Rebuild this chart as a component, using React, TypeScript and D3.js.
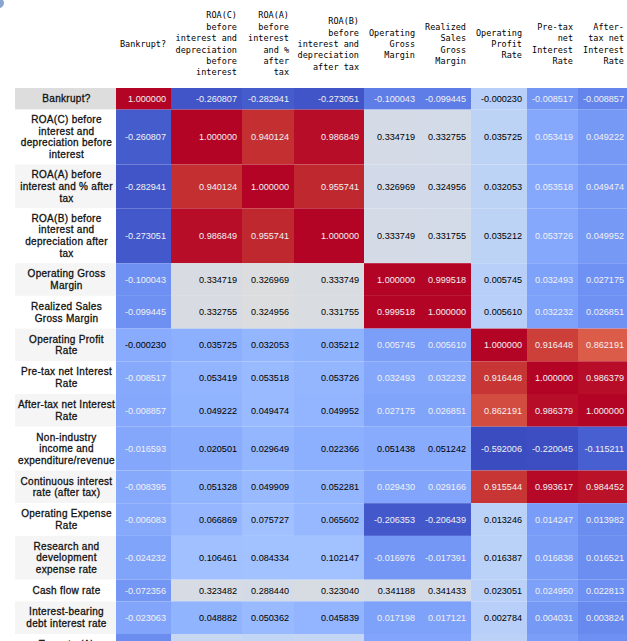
import React, { useEffect, useRef } from "react";
import * as d3 from "d3";

// column headers (wrapped as in the notebook output)
const columnHeaders: string[][] = [
  ["Bankrupt?"],
  ["ROA(C)", "before", "interest and", "depreciation", "before", "interest"],
  ["ROA(A)", "before", "interest", "and %", "after", "tax"],
  ["ROA(B)", "before", "interest and", "depreciation", "after tax"],
  ["Operating", "Gross", "Margin"],
  ["Realized", "Sales", "Gross", "Margin"],
  ["Operating", "Profit", "Rate"],
  ["Pre-tax", "net", "Interest", "Rate"],
  ["After-", "tax net", "Interest", "Rate"],
];

// row index labels
const rowLabels: string[][] = [
  ["Bankrupt?"],
  ["ROA(C) before", "interest and", "depreciation before", "interest"],
  ["ROA(A) before", "interest and % after", "tax"],
  ["ROA(B) before", "interest and", "depreciation after", "tax"],
  ["Operating Gross", "Margin"],
  ["Realized Sales", "Gross Margin"],
  ["Operating Profit", "Rate"],
  ["Pre-tax net Interest", "Rate"],
  ["After-tax net Interest", "Rate"],
  ["Non-industry", "income and", "expenditure/revenue"],
  ["Continuous interest", "rate (after tax)"],
  ["Operating Expense", "Rate"],
  ["Research and", "development", "expense rate"],
  ["Cash flow rate"],
  ["Interest-bearing", "debt interest rate"],
  ["Tax rate (A)"],
];

const corrValues: number[][] = [
  [1.0, -0.260807, -0.282941, -0.273051, -0.100043, -0.099445, -0.00023, -0.008517, -0.008857],
  [-0.260807, 1.0, 0.940124, 0.986849, 0.334719, 0.332755, 0.035725, 0.053419, 0.049222],
  [-0.282941, 0.940124, 1.0, 0.955741, 0.326969, 0.324956, 0.032053, 0.053518, 0.049474],
  [-0.273051, 0.986849, 0.955741, 1.0, 0.333749, 0.331755, 0.035212, 0.053726, 0.049952],
  [-0.100043, 0.334719, 0.326969, 0.333749, 1.0, 0.999518, 0.005745, 0.032493, 0.027175],
  [-0.099445, 0.332755, 0.324956, 0.331755, 0.999518, 1.0, 0.00561, 0.032232, 0.026851],
  [-0.00023, 0.035725, 0.032053, 0.035212, 0.005745, 0.00561, 1.0, 0.916448, 0.862191],
  [-0.008517, 0.053419, 0.053518, 0.053726, 0.032493, 0.032232, 0.916448, 1.0, 0.986379],
  [-0.008857, 0.049222, 0.049474, 0.049952, 0.027175, 0.026851, 0.862191, 0.986379, 1.0],
  [-0.016593, 0.020501, 0.029649, 0.022366, 0.051438, 0.051242, -0.592006, -0.220045, -0.115211],
  [-0.008395, 0.051328, 0.049909, 0.052281, 0.02943, 0.029166, 0.915544, 0.993617, 0.984452],
  [-0.006083, 0.066869, 0.075727, 0.065602, -0.206353, -0.206439, 0.013246, 0.014247, 0.013982],
  [-0.024232, 0.106461, 0.084334, 0.102147, -0.016976, -0.017391, 0.016387, 0.016838, 0.016521],
  [-0.072356, 0.323482, 0.28844, 0.32304, 0.341188, 0.341433, 0.023051, 0.02495, 0.022813],
  [-0.023063, 0.048882, 0.050362, 0.045839, 0.017198, 0.017121, 0.002784, 0.004031, 0.003824],
  [-0.10978, 0.258791, 0.206687, 0.237044, 0.027979, 0.027709, 0.019008, 0.020121, 0.021124],
];

// per-column minimum over the whole (longer) table, used by the gradient
const columnMins = [-0.311, -0.29, -0.33, -0.3, -0.245, -0.245, -0.592006, -0.225, -0.167];

// matplotlib coolwarm control points
const coolwarm = [
  "#3b4cc0", "#445acc", "#4d68d7", "#5775e1", "#6282ea", "#6c8ef1", "#779af7", "#82a5fb",
  "#8db0fe", "#98b9ff", "#a3c2ff", "#aec9fd", "#b8d0f9", "#c2d5f4", "#ccd9ee", "#d5dbe6",
  "#dddddd", "#e5d8d1", "#ecd3c5", "#f1ccb8", "#f5c4ad", "#f7bba0", "#f7b194", "#f7a687",
  "#f49a7b", "#f18d6f", "#ec7f63", "#e57058", "#de604d", "#d55042", "#cb3e38", "#c0282f",
  "#b40426",
];

const colWidths = [101, 55, 71, 52, 70, 56, 51, 56, 51, 51];
const tableLeft = 15;
const headerHeight = 88;
const lineH = 11.1;

const App = () => {
  const ref = useRef<SVGSVGElement>(null);

  useEffect(() => {
    const svg = d3.select(ref.current);
    svg.selectAll("*").remove();

    const cmap = d3
      .scaleLinear<string>()
      .domain(d3.range(coolwarm.length).map((i) => i / (coolwarm.length - 1)))
      .range(coolwarm)
      .interpolate(d3.interpolateRgb);
    const lut = d3.range(256).map((i) => cmap(i / 255));

    const lin = (c: number) => (c <= 0.04045 ? c / 12.92 : Math.pow((c + 0.055) / 1.055, 2.4));
    const luminance = (col: string) => {
      const c = d3.rgb(col);
      return 0.2126 * lin(c.r / 255) + 0.7152 * lin(c.g / 255) + 0.0722 * lin(c.b / 255);
    };

    const colScales = columnMins.map((m) => d3.scaleLinear().domain([m, 1]).range([0, 1]).clamp(true));
    const cellColor = (v: number, j: number) => {
      const p = colScales[j](v);
      return lut[Math.min(255, Math.floor(p * 256))];
    };

    const xEdges = [tableLeft, ...Array.from(d3.cumsum(colWidths), (d) => d + tableLeft)];
    const rowHeights = rowLabels.map((l) => 10.5 + lineH * l.length);
    const yEdges = [headerHeight, ...Array.from(d3.cumsum(rowHeights), (d) => d + headerHeight)];

    svg.append("rect").attr("width", 627).attr("height", 641).attr("fill", "#fff");

    // notebook gutter icon
    svg.append("circle").attr("cx", -1).attr("cy", 3).attr("r", 5).attr("fill", "#8aa5cf");

    // header
    const head = svg.append("g").attr("font-family", "'DejaVu Sans Mono', monospace").attr("font-size", 8.5);
    columnHeaders.forEach((lines, j) => {
      const right = xEdges[j + 2] - 5;
      lines.forEach((ln, i) => {
        head
          .append("text")
          .attr("x", right)
          .attr("y", 44 + (i - (lines.length - 1) / 2) * 11.4)
          .attr("dy", "0.35em")
          .attr("text-anchor", "end")
          .attr("fill", "#000")
          .text(ln);
      });
    });

    // body rows
    rowLabels.forEach((lines, i) => {
      const top = yEdges[i];
      const h = rowHeights[i];
      const g = svg.append("g");
      g.append("rect")
        .attr("x", xEdges[0])
        .attr("y", top)
        .attr("width", xEdges[1] - xEdges[0])
        .attr("height", h)
        .attr("fill", i === 0 ? "#dddddd" : i % 2 === 0 ? "#f5f5f5" : "#ffffff");
      lines.forEach((ln, k) => {
        g.append("text")
          .attr("x", (xEdges[0] + xEdges[1]) / 2 + 1)
          .attr("y", top + h / 2 + (k - (lines.length - 1) / 2) * 11.6)
          .attr("dy", "0.35em")
          .attr("text-anchor", "middle")
          .attr("font-family", "'Liberation Sans', Arial, sans-serif")
          .attr("font-size", 10)
          .attr("letter-spacing", 0.3)
          .attr("fill", "#111")
          .attr("stroke", "#111")
          .attr("stroke-width", 0.3)
          .text(ln);
      });

      corrValues[i].forEach((v, j) => {
        const fill = cellColor(v, j);
        const x0 = xEdges[j + 1];
        const x1 = xEdges[j + 2];
        g.append("rect")
          .attr("x", x0)
          .attr("y", top)
          .attr("width", x1 - x0)
          .attr("height", h)
          .attr("fill", fill);
        g.append("text")
          .attr("x", x1 - 5)
          .attr("y", top + h / 2)
          .attr("dy", "0.35em")
          .attr("text-anchor", "end")
          .attr("font-family", "'Liberation Sans', Arial, sans-serif")
          .attr("font-size", 9.1)
          .attr("fill", luminance(fill) < 0.408 ? "#f1f1f1" : "#000000")
          .text(v.toFixed(6));
      });
    });
  }, []);

  return (
    <svg
      ref={ref}
      width={627}
      height={641}
      style={{ position: "absolute", left: 0, top: 0 }}
    />
  );
};

export default App;
